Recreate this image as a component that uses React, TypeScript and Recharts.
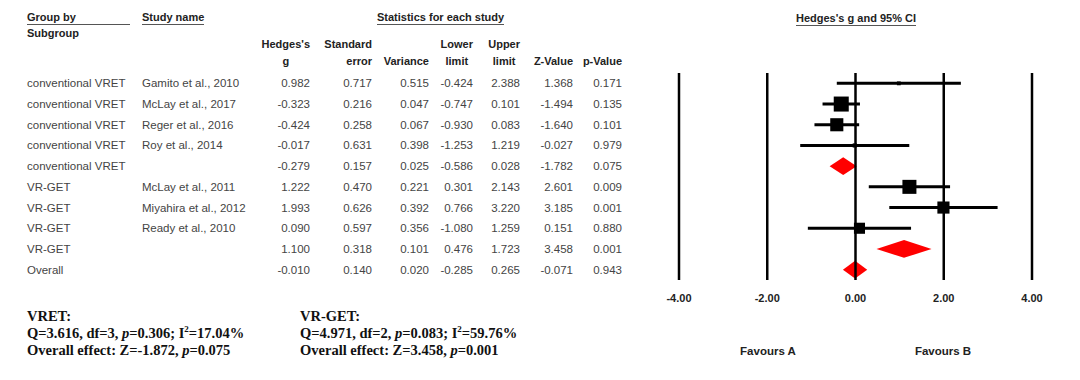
import { ScatterChart, Scatter, XAxis, YAxis, ZAxis, ReferenceLine, ReferenceArea } from "recharts";

const groups = [
  "conventional VRET",
  "conventional VRET",
  "conventional VRET",
  "conventional VRET",
  "conventional VRET",
  "VR-GET",
  "VR-GET",
  "VR-GET",
  "VR-GET",
  "Overall",
];
const studies = [
  "Gamito et al., 2010",
  "McLay et al., 2017",
  "Reger et al., 2016",
  "Roy et al., 2014",
  "",
  "McLay et al., 2011",
  "Miyahira et al., 2012",
  "Ready et al., 2010",
  "",
  "",
];
const hedgesG = [0.982, -0.323, -0.424, -0.017, -0.279, 1.222, 1.993, 0.09, 1.1, -0.01];
const stdErr = [0.717, 0.216, 0.258, 0.631, 0.157, 0.47, 0.626, 0.597, 0.318, 0.14];
const variance = [0.515, 0.047, 0.067, 0.398, 0.025, 0.221, 0.392, 0.356, 0.101, 0.02];
const lowerLimit = [-0.424, -0.747, -0.93, -1.253, -0.586, 0.301, 0.766, -1.08, 0.476, -0.285];
const upperLimit = [2.388, 0.101, 0.083, 1.219, 0.028, 2.143, 3.22, 1.259, 1.723, 0.265];
const zValue = [1.368, -1.494, -1.64, -0.027, -1.782, 2.601, 3.185, 0.151, 3.458, -0.071];
const pValue = [0.171, 0.135, 0.101, 0.979, 0.075, 0.009, 0.001, 0.88, 0.001, 0.943];
const isSummary = [false, false, false, false, true, false, false, false, true, true];
// relative weight (%) of each study
const relWeight = [3, 46, 35, 3.5, 0, 40, 30, 25, 0, 0];
const xTicks = [-4, -2, 0, 2, 4];

const rows = hedgesG.map((g, i) => ({
  row: i + 1,
  g,
  lo: lowerLimit[i],
  hi: upperLimit[i],
  w: relWeight[i],
  summary: isSummary[i],
}));
const studyPoints = rows.filter((r) => !r.summary);
const summaryRows = rows.filter((r) => r.summary);

const W = 1080;
const H = 380;
const plotTop = 73;
const plotBottom = 280;
const rowH = (plotBottom - plotTop) / rows.length;
const rowY = (i: number) => plotTop + (i + 0.5) * rowH;

const sans = '"Liberation Sans", Arial, sans-serif';
const serif = '"Liberation Serif", "Times New Roman", serif';

const columns = [
  { head: ["Hedges's", "g"], values: hedgesG, right: 310, align: "center" },
  { head: ["Standard", "error"], values: stdErr, right: 372, align: "right" },
  { head: ["", "Variance"], values: variance, right: 429, align: "right" },
  { head: ["Lower", "limit"], values: lowerLimit, right: 473, align: "center" },
  { head: ["Upper", "limit"], values: upperLimit, right: 520, align: "center" },
  { head: ["", "Z-Value"], values: zValue, right: 573, align: "right" },
  { head: ["", "p-Value"], values: pValue, right: 622, align: "right" },
];

const Box = (props: any) => {
  const s = props.size != null ? Math.sqrt(props.size) : (props.width * Math.sqrt(Math.PI)) / 2;
  if (!s) return <g />;
  return <rect x={props.cx - s / 2} y={props.cy - s / 2} width={s} height={s} fill="#000" />;
};

const diamond = (frac: number) => (p: any) => {
  const { x, y, width, height } = p;
  const mx = x + width * frac;
  return (
    <polygon
      points={`${x},${y + height / 2} ${mx},${y} ${x + width},${y + height / 2} ${mx},${y + height}`}
      fill="#ff0000"
    />
  );
};

const cell = (extra: any) => ({
  position: "absolute" as const,
  fontFamily: sans,
  fontSize: 11.5,
  lineHeight: "14px",
  color: "#444",
  whiteSpace: "nowrap" as const,
  ...extra,
});

const headStyle = (extra: any) => ({
  position: "absolute" as const,
  fontFamily: sans,
  fontSize: 11,
  fontWeight: 700,
  color: "#222",
  whiteSpace: "nowrap" as const,
  lineHeight: "14px",
  ...extra,
});

const noteStyle = (left: number) => ({
  position: "absolute" as const,
  left,
  top: 308,
  fontFamily: serif,
  fontWeight: 700,
  fontSize: 14.5,
  lineHeight: "17px",
  color: "#111",
  whiteSpace: "nowrap" as const,
});

export default function App() {
  return (
    <div style={{ position: "relative", width: W, height: H, background: "#fff", overflow: "hidden" }}>
      <style>{`body{margin:0}`}</style>
      <ScatterChart width={W} height={H} margin={{ top: plotTop, right: 48, bottom: H - plotBottom - 30, left: 679 }}>
        <XAxis
          type="number"
          dataKey="g"
          domain={[-4, 4]}
          ticks={xTicks}
          tickFormatter={(v: number) => v.toFixed(2)}
          axisLine={false}
          tickLine={false}
          tickMargin={8}
          height={30}
          tick={{ fontSize: 11, fontWeight: 700, fill: "#222", fontFamily: sans }}
        />
        <YAxis type="number" dataKey="row" domain={[0.5, rows.length + 0.5]} reversed hide />
        <ZAxis type="number" dataKey="w" domain={[0, 100]} range={[0, 490]} />
        {xTicks.map((t) => (
          <ReferenceLine key={t} x={t} stroke="#000" strokeWidth={2.5} />
        ))}
        {studyPoints.map((r) => (
          <ReferenceLine
            key={"ci" + r.row}
            segment={[
              { x: r.lo, y: r.row },
              { x: r.hi, y: r.row },
            ]}
            stroke="#000"
            strokeWidth={3}
          />
        ))}
        <Scatter data={studyPoints} shape={Box} isAnimationActive={false} />
        {summaryRows.map((r) => (
          <ReferenceArea
            key={"d" + r.row}
            x1={r.lo}
            x2={r.hi}
            y1={r.row - 0.43}
            y2={r.row + 0.43}
            shape={diamond((r.g - r.lo) / (r.hi - r.lo))}
          />
        ))}
      </ScatterChart>

      {/* headers */}
      <div style={headStyle({ left: 27, top: 11, width: 103, borderBottom: "1px solid #555", lineHeight: "13px" })}>
        Group by
      </div>
      <div style={headStyle({ left: 27, top: 26 })}>Subgroup</div>
      <div style={headStyle({ left: 142, top: 11, borderBottom: "1px solid #555", lineHeight: "13px" })}>
        Study name
      </div>
      <div style={headStyle({ left: 377, top: 11, borderBottom: "1px solid #555", lineHeight: "13px" })}>
        Statistics for each study
      </div>
      <div style={headStyle({ left: 856, top: 12, transform: "translateX(-50%)", borderBottom: "1px solid #555", lineHeight: "13px" })}>
        Hedges's g and 95% CI
      </div>
      {columns.map((c) => (
        <div
          key={c.head.join("")}
          style={headStyle({ right: W - c.right, top: 36, textAlign: c.align, lineHeight: "17px" })}
        >
          <div>{c.head[0] || "\u00a0"}</div>
          <div>{c.head[1]}</div>
        </div>
      ))}

      {/* table rows */}
      {rows.map((r, i) => (
        <div key={"row" + i}>
          <div style={cell({ left: 27, top: rowY(i) - 7 })}>{groups[i]}</div>
          <div style={cell({ left: 142, top: rowY(i) - 7 })}>{studies[i]}</div>
          {columns.map((c) => (
            <div key={c.head.join("")} style={cell({ right: W - c.right, top: rowY(i) - 7, textAlign: "right" })}>
              {c.values[i].toFixed(3)}
            </div>
          ))}
        </div>
      ))}

      {/* favours labels */}
      <div style={headStyle({ left: 768, top: 344, transform: "translateX(-50%)", fontSize: 11.5 })}>Favours A</div>
      <div style={headStyle({ left: 943, top: 344, transform: "translateX(-50%)", fontSize: 11.5 })}>Favours B</div>

      {/* heterogeneity notes */}
      <div style={noteStyle(27)}>
        <div>VRET:</div>
        <div>
          Q=3.616, df=3, <i>p</i>=0.306; I<sup style={{ fontSize: 9, lineHeight: 0 }}>2</sup>=17.04%
        </div>
        <div>
          Overall effect: Z=-1.872, <i>p</i>=0.075
        </div>
      </div>
      <div style={noteStyle(300)}>
        <div>VR-GET:</div>
        <div>
          Q=4.971, df=2, <i>p</i>=0.083; I<sup style={{ fontSize: 9, lineHeight: 0 }}>2</sup>=59.76%
        </div>
        <div>
          Overall effect: Z=3.458, <i>p</i>=0.001
        </div>
      </div>
    </div>
  );
}
